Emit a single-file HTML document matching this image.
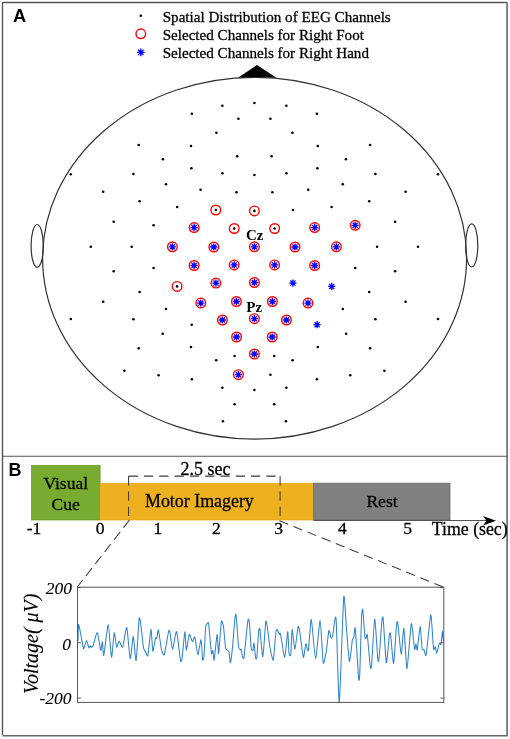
<!DOCTYPE html>
<html><head><meta charset="utf-8"><title>EEG figure</title>
<style>
html,body{margin:0;padding:0;background:#fff;}
body{width:510px;height:739px;overflow:hidden;}
svg{display:block;}
.s{font-family:'Liberation Serif','Times New Roman',serif;}
.s text, text.s{stroke:#000;stroke-width:0.28px;}
.s.it text{stroke-width:0.1px;}
.b{font-family:'Liberation Sans',Arial,sans-serif;font-weight:bold;}
</style></head><body>
<svg width="510" height="739" viewBox="0 0 510 739">
<rect x="0" y="0" width="510" height="739" fill="#fff"/>
<!-- frame -->
<path d="M507.1 3.2V735.8H2.5" fill="none" stroke="#686868" stroke-width="1.6"/>
<path d="M2.5 735V3.2Q2.5 2.5 3.2 2.5H506.4Q507.1 2.5 507.1 3.2" fill="none" stroke="#555" stroke-width="1.4"/>
<line x1="2.5" y1="456.3" x2="507" y2="456.3" stroke="#555" stroke-width="1.1"/>
<!-- Panel A -->
<text class="b" x="13.1" y="21.5" font-size="18.3">A</text>
<g class="s" font-size="15.1" fill="#000">
<text x="162.7" y="21.9">Spatial Distribution of EEG Channels</text>
<text x="162.7" y="39.8">Selected Channels for Right Foot</text>
<text x="162.7" y="58.2">Selected Channels for Right Hand</text>
</g>
<circle cx="140.8" cy="15.8" r="1.3" fill="#000"/>
<circle cx="140.8" cy="33.8" r="4.8" fill="none" stroke="#f00" stroke-width="1.4"/>
<path d="M137.00 52.40h7.60M140.80 48.60v7.60M138.11 49.71l5.37 5.37M138.11 55.09l5.37 -5.37" stroke="#00f" stroke-width="1.3" fill="none"/>
<!-- head -->
<ellipse cx="254.6" cy="258.2" rx="212" ry="180.9" fill="none" stroke="#333" stroke-width="1.2"/>
<path d="M237.9 77.7 L257 65.1 L276.4 77.7 Q257 76.4 237.9 77.7Z" fill="#000"/>
<ellipse cx="37.2" cy="245.9" rx="6.1" ry="21.4" fill="none" stroke="#333" stroke-width="1.2"/>
<ellipse cx="471.7" cy="245.4" rx="6.1" ry="21.6" fill="none" stroke="#333" stroke-width="1.2"/>
<g fill="#000"><circle cx="254.40" cy="103.00" r="1.3"/><circle cx="254.40" cy="175.00" r="1.3"/><circle cx="254.40" cy="210.90" r="1.3"/><circle cx="254.40" cy="390.00" r="1.3"/><circle cx="222.40" cy="105.70" r="1.3"/><circle cx="286.40" cy="105.70" r="1.3"/><circle cx="191.90" cy="113.70" r="1.3"/><circle cx="316.90" cy="113.70" r="1.3"/><circle cx="238.40" cy="118.70" r="1.3"/><circle cx="270.40" cy="118.70" r="1.3"/><circle cx="216.40" cy="132.70" r="1.3"/><circle cx="292.40" cy="132.70" r="1.3"/><circle cx="138.70" cy="145.00" r="1.3"/><circle cx="370.10" cy="145.00" r="1.3"/><circle cx="191.00" cy="146.00" r="1.3"/><circle cx="317.80" cy="146.00" r="1.3"/><circle cx="237.20" cy="156.30" r="1.3"/><circle cx="271.60" cy="156.30" r="1.3"/><circle cx="162.90" cy="159.30" r="1.3"/><circle cx="345.90" cy="159.30" r="1.3"/><circle cx="191.40" cy="168.30" r="1.3"/><circle cx="317.40" cy="168.30" r="1.3"/><circle cx="222.40" cy="173.30" r="1.3"/><circle cx="286.40" cy="173.30" r="1.3"/><circle cx="133.40" cy="174.00" r="1.3"/><circle cx="375.40" cy="174.00" r="1.3"/><circle cx="70.80" cy="174.30" r="1.3"/><circle cx="438.00" cy="174.30" r="1.3"/><circle cx="166.00" cy="184.30" r="1.3"/><circle cx="342.80" cy="184.30" r="1.3"/><circle cx="200.60" cy="189.70" r="1.3"/><circle cx="308.20" cy="189.70" r="1.3"/><circle cx="103.20" cy="191.70" r="1.3"/><circle cx="405.60" cy="191.70" r="1.3"/><circle cx="236.40" cy="192.30" r="1.3"/><circle cx="272.40" cy="192.30" r="1.3"/><circle cx="139.60" cy="201.30" r="1.3"/><circle cx="369.20" cy="201.30" r="1.3"/><circle cx="177.20" cy="207.00" r="1.3"/><circle cx="331.60" cy="207.00" r="1.3"/><circle cx="215.80" cy="210.00" r="1.3"/><circle cx="293.00" cy="210.00" r="1.3"/><circle cx="113.70" cy="221.70" r="1.3"/><circle cx="395.10" cy="221.70" r="1.3"/><circle cx="153.60" cy="225.30" r="1.3"/><circle cx="234.20" cy="228.50" r="1.3"/><circle cx="274.60" cy="228.50" r="1.3"/><circle cx="90.80" cy="246.70" r="1.3"/><circle cx="418.00" cy="246.70" r="1.3"/><circle cx="131.70" cy="246.70" r="1.3"/><circle cx="377.10" cy="246.70" r="1.3"/><circle cx="153.60" cy="268.00" r="1.3"/><circle cx="355.20" cy="268.00" r="1.3"/><circle cx="113.70" cy="271.30" r="1.3"/><circle cx="395.10" cy="271.30" r="1.3"/><circle cx="177.10" cy="286.40" r="1.3"/><circle cx="139.60" cy="292.00" r="1.3"/><circle cx="369.20" cy="292.00" r="1.3"/><circle cx="103.20" cy="301.70" r="1.3"/><circle cx="405.60" cy="301.70" r="1.3"/><circle cx="166.00" cy="309.00" r="1.3"/><circle cx="342.80" cy="309.00" r="1.3"/><circle cx="70.80" cy="319.00" r="1.3"/><circle cx="438.00" cy="319.00" r="1.3"/><circle cx="133.40" cy="319.30" r="1.3"/><circle cx="375.40" cy="319.30" r="1.3"/><circle cx="191.70" cy="324.70" r="1.3"/><circle cx="162.70" cy="333.70" r="1.3"/><circle cx="346.10" cy="333.70" r="1.3"/><circle cx="191.00" cy="347.00" r="1.3"/><circle cx="317.80" cy="347.00" r="1.3"/><circle cx="138.70" cy="348.30" r="1.3"/><circle cx="370.10" cy="348.30" r="1.3"/><circle cx="234.60" cy="356.00" r="1.3"/><circle cx="274.20" cy="356.00" r="1.3"/><circle cx="216.20" cy="360.30" r="1.3"/><circle cx="292.60" cy="360.30" r="1.3"/><circle cx="124.40" cy="370.70" r="1.3"/><circle cx="384.40" cy="370.70" r="1.3"/><circle cx="270.40" cy="374.70" r="1.3"/><circle cx="158.60" cy="375.30" r="1.3"/><circle cx="350.20" cy="375.30" r="1.3"/><circle cx="191.90" cy="379.30" r="1.3"/><circle cx="316.90" cy="379.30" r="1.3"/><circle cx="222.40" cy="387.70" r="1.3"/><circle cx="286.40" cy="387.70" r="1.3"/><circle cx="234.60" cy="404.30" r="1.3"/><circle cx="274.20" cy="404.30" r="1.3"/><circle cx="222.90" cy="421.30" r="1.3"/><circle cx="285.90" cy="421.30" r="1.3"/></g>
<g fill="none" stroke="#f00" stroke-width="1.4"><circle cx="254.40" cy="210.90" r="4.8"/><circle cx="254.40" cy="246.80" r="4.8"/><circle cx="254.40" cy="282.50" r="4.8"/><circle cx="254.40" cy="318.70" r="4.8"/><circle cx="254.40" cy="354.00" r="4.8"/><circle cx="215.80" cy="210.00" r="4.8"/><circle cx="355.20" cy="225.30" r="4.8"/><circle cx="194.10" cy="227.60" r="4.8"/><circle cx="314.70" cy="227.60" r="4.8"/><circle cx="234.20" cy="228.50" r="4.8"/><circle cx="274.60" cy="228.50" r="4.8"/><circle cx="172.40" cy="246.80" r="4.8"/><circle cx="336.40" cy="246.80" r="4.8"/><circle cx="213.80" cy="247.00" r="4.8"/><circle cx="295.00" cy="247.00" r="4.8"/><circle cx="194.10" cy="265.50" r="4.8"/><circle cx="314.70" cy="265.50" r="4.8"/><circle cx="234.20" cy="264.90" r="4.8"/><circle cx="274.60" cy="264.90" r="4.8"/><circle cx="215.90" cy="283.10" r="4.8"/><circle cx="177.10" cy="286.40" r="4.8"/><circle cx="236.40" cy="301.50" r="4.8"/><circle cx="272.40" cy="301.50" r="4.8"/><circle cx="200.80" cy="303.10" r="4.8"/><circle cx="308.00" cy="303.10" r="4.8"/><circle cx="222.40" cy="320.00" r="4.8"/><circle cx="286.40" cy="320.00" r="4.8"/><circle cx="236.60" cy="337.00" r="4.8"/><circle cx="272.20" cy="337.00" r="4.8"/><circle cx="238.40" cy="374.70" r="4.8"/></g>
<path d="M250.80 246.80h7.20M254.40 243.20v7.20M251.85 244.25l5.09 5.09M251.85 249.35l5.09 -5.09 M250.80 282.50h7.20M254.40 278.90v7.20M251.85 279.95l5.09 5.09M251.85 285.05l5.09 -5.09 M250.80 318.70h7.20M254.40 315.10v7.20M251.85 316.15l5.09 5.09M251.85 321.25l5.09 -5.09 M250.80 354.00h7.20M254.40 350.40v7.20M251.85 351.45l5.09 5.09M251.85 356.55l5.09 -5.09 M351.60 225.30h7.20M355.20 221.70v7.20M352.65 222.75l5.09 5.09M352.65 227.85l5.09 -5.09 M190.50 227.60h7.20M194.10 224.00v7.20M191.55 225.05l5.09 5.09M191.55 230.15l5.09 -5.09 M311.10 227.60h7.20M314.70 224.00v7.20M312.15 225.05l5.09 5.09M312.15 230.15l5.09 -5.09 M168.80 246.80h7.20M172.40 243.20v7.20M169.85 244.25l5.09 5.09M169.85 249.35l5.09 -5.09 M332.80 246.80h7.20M336.40 243.20v7.20M333.85 244.25l5.09 5.09M333.85 249.35l5.09 -5.09 M210.20 247.00h7.20M213.80 243.40v7.20M211.25 244.45l5.09 5.09M211.25 249.55l5.09 -5.09 M291.40 247.00h7.20M295.00 243.40v7.20M292.45 244.45l5.09 5.09M292.45 249.55l5.09 -5.09 M190.50 265.50h7.20M194.10 261.90v7.20M191.55 262.95l5.09 5.09M191.55 268.05l5.09 -5.09 M311.10 265.50h7.20M314.70 261.90v7.20M312.15 262.95l5.09 5.09M312.15 268.05l5.09 -5.09 M230.60 264.90h7.20M234.20 261.30v7.20M231.65 262.35l5.09 5.09M231.65 267.45l5.09 -5.09 M271.00 264.90h7.20M274.60 261.30v7.20M272.05 262.35l5.09 5.09M272.05 267.45l5.09 -5.09 M212.30 283.10h7.20M215.90 279.50v7.20M213.35 280.55l5.09 5.09M213.35 285.65l5.09 -5.09 M289.30 283.10h7.20M292.90 279.50v7.20M290.35 280.55l5.09 5.09M290.35 285.65l5.09 -5.09 M328.10 286.40h7.20M331.70 282.80v7.20M329.15 283.85l5.09 5.09M329.15 288.95l5.09 -5.09 M232.80 301.50h7.20M236.40 297.90v7.20M233.85 298.95l5.09 5.09M233.85 304.05l5.09 -5.09 M268.80 301.50h7.20M272.40 297.90v7.20M269.85 298.95l5.09 5.09M269.85 304.05l5.09 -5.09 M197.20 303.10h7.20M200.80 299.50v7.20M198.25 300.55l5.09 5.09M198.25 305.65l5.09 -5.09 M304.40 303.10h7.20M308.00 299.50v7.20M305.45 300.55l5.09 5.09M305.45 305.65l5.09 -5.09 M218.80 320.00h7.20M222.40 316.40v7.20M219.85 317.45l5.09 5.09M219.85 322.55l5.09 -5.09 M282.80 320.00h7.20M286.40 316.40v7.20M283.85 317.45l5.09 5.09M283.85 322.55l5.09 -5.09 M313.50 324.70h7.20M317.10 321.10v7.20M314.55 322.15l5.09 5.09M314.55 327.25l5.09 -5.09 M233.00 337.00h7.20M236.60 333.40v7.20M234.05 334.45l5.09 5.09M234.05 339.55l5.09 -5.09 M268.60 337.00h7.20M272.20 333.40v7.20M269.65 334.45l5.09 5.09M269.65 339.55l5.09 -5.09 M234.80 374.70h7.20M238.40 371.10v7.20M235.85 372.15l5.09 5.09M235.85 377.25l5.09 -5.09" stroke="#00f" stroke-width="1.3" fill="none"/>
<text class="s" x="246.0" y="239.9" font-size="15" font-weight="bold" style="stroke:none">Cz</text>
<text class="s" x="246.3" y="311.6" font-size="15" font-weight="bold" style="stroke:none">Pz</text>
<!-- Panel B -->
<text class="b" x="8.4" y="476.2" font-size="18">B</text>
<rect x="31.5" y="465.3" width="68.6" height="54.7" fill="#77AC30" stroke="#5f9a1f" stroke-width="0.7"/>
<rect x="100.1" y="483.2" width="213.4" height="36.8" fill="#EDB120" stroke="#eaa514" stroke-width="0.7"/>
<rect x="313.5" y="483.2" width="136.5" height="36.8" fill="#808080" stroke="#6a6a6a" stroke-width="0.8"/><line x1="314" y1="483.6" x2="314" y2="519.6" stroke="#6f7c9c" stroke-width="1"/>
<line x1="313.5" y1="520.5" x2="488" y2="520.5" stroke="#555" stroke-width="1.2"/>
<path d="M496 520.8 L483 516 L486.5 520.8 L483 525.6Z" fill="#000"/>
<g class="s" font-size="17.5" fill="#000">
<text x="65.7" y="489.2" text-anchor="middle">Visual</text>
<text x="65.7" y="509.8" text-anchor="middle">Cue</text>
<text x="199.4" y="506.8" text-anchor="middle" font-size="17.9">Motor Imagery</text>
<text x="382" y="506.6" text-anchor="middle">Rest</text>
<text x="205.5" y="474.8" text-anchor="middle" font-size="18">2.5 sec</text>
<text x="34" y="534.2" text-anchor="middle">-1</text>
<text x="100" y="534.2" text-anchor="middle">0</text>
<text x="157.8" y="534.2" text-anchor="middle">1</text>
<text x="216.3" y="534.2" text-anchor="middle">2</text>
<text x="278.7" y="534.2" text-anchor="middle">3</text>
<text x="342.3" y="534.2" text-anchor="middle">4</text>
<text x="407.6" y="534.2" text-anchor="middle">5</text>
<text x="431.8" y="535.4" font-size="17.8">Time (sec)</text>
</g>
<path d="M128.6 476.1 V520 M128.6 476.1 H280.1 M280.1 476.1 V520" fill="none" stroke="#3c3c3c" stroke-width="1.05" stroke-dasharray="9.3 6"/>
<line x1="129.6" y1="519.8" x2="77.3" y2="587" stroke="#3c3c3c" stroke-width="1.05" stroke-dasharray="10 5.3"/>
<line x1="279.4" y1="520.7" x2="443.8" y2="587.2" stroke="#3c3c3c" stroke-width="1.05" stroke-dasharray="9.4 5.8"/>
<!-- plot -->
<path d="M78.0 641.0C78.1 639.4 78.2 623.8 78.7 624.5C79.2 625.2 82.8 645.5 83.4 647.8C84.0 650.1 84.1 647.8 84.4 647.1C84.7 646.4 86.1 640.3 86.6 640.4C87.0 640.5 88.5 647.3 88.9 647.8C89.3 648.3 90.0 645.9 90.2 645.8C90.4 645.7 90.6 647.1 90.9 647.1C91.2 647.1 92.4 647.5 92.9 646.2C93.4 644.9 95.8 635.6 96.3 634.3C96.8 633.0 97.3 632.1 97.7 633.6C98.1 635.1 100.1 647.6 100.4 649.2C100.7 650.8 100.9 650.6 101.1 649.9C101.3 649.1 102.1 641.2 102.4 641.7C102.7 642.2 103.2 657.0 103.8 655.3C104.4 653.6 107.4 624.6 108.2 624.8C109.0 625.0 110.9 656.5 111.5 657.3C112.1 658.1 113.7 633.7 114.2 632.7C114.7 631.7 116.1 646.3 116.6 647.1C117.1 647.9 118.5 641.1 119.1 641.1C119.7 641.1 121.9 648.5 122.7 647.1C123.5 645.7 126.0 626.3 126.8 627.5C127.5 628.7 129.5 657.8 130.2 658.7C130.8 659.6 132.7 636.1 133.3 636.3C133.9 636.5 135.5 662.5 136.1 660.7C136.7 658.9 138.7 621.0 139.2 618.0C139.7 615.0 141.1 627.2 141.5 630.2C141.9 633.2 143.1 645.6 143.5 647.8C143.9 650.0 145.2 651.1 145.6 651.9C146.0 652.6 147.4 657.5 147.9 655.3C148.4 653.1 150.5 629.9 151.0 629.5C151.5 629.1 152.4 650.3 152.8 651.2C153.2 652.1 155.1 639.4 155.5 638.1C155.9 636.8 156.5 639.4 156.8 638.6C157.1 637.8 157.9 628.9 158.4 630.0C158.9 631.1 160.8 646.7 161.4 649.2C162.0 651.7 163.6 656.4 164.3 654.6C165.0 652.8 168.0 633.5 168.6 631.3C169.2 629.1 169.6 630.5 170.0 632.3C170.4 634.1 172.0 649.3 172.7 649.2C173.3 649.1 175.7 630.6 176.5 631.6C177.3 632.6 179.9 656.9 180.4 659.7C180.9 662.5 181.5 662.1 181.9 659.3C182.3 656.5 184.5 632.7 184.9 631.8C185.3 630.9 185.9 650.0 186.3 650.2C186.7 650.5 188.7 635.1 189.3 634.3C189.9 633.4 191.8 641.4 192.4 641.7C193.0 642.0 194.2 635.7 194.8 637.0C195.4 638.3 197.3 654.3 197.9 654.6C198.5 654.9 200.5 639.2 201.0 639.7C201.5 640.2 202.3 658.1 202.6 659.7C202.9 661.3 203.7 659.2 204.0 656.0C204.3 652.8 205.3 630.8 205.6 627.5C205.9 624.2 207.0 623.7 207.3 623.4C207.6 623.1 208.3 621.1 208.7 624.1C209.1 627.1 211.0 650.6 211.4 653.2C211.8 655.8 212.5 649.8 212.8 650.5C213.1 651.2 213.7 661.6 214.1 660.0C214.5 658.4 216.7 635.2 217.1 634.6C217.5 634.0 218.2 654.8 218.6 653.5C219.0 652.2 220.8 624.4 221.3 621.8C221.8 619.2 223.2 624.9 223.6 627.5C224.0 630.1 225.1 645.4 225.6 647.8C226.1 650.2 228.5 650.4 229.0 651.9C229.5 653.4 230.0 663.4 230.4 662.7C230.8 662.0 232.3 649.4 232.7 645.1C233.1 640.8 234.5 622.4 234.8 619.4C235.2 616.4 235.8 612.6 236.2 615.3C236.6 618.0 238.1 643.0 238.5 646.5C238.9 650.0 240.2 649.6 240.5 649.9C240.8 650.2 240.9 648.5 241.1 649.2C241.3 649.9 242.4 656.6 242.7 657.3C243.0 658.0 243.6 660.3 244.1 656.6C244.6 652.9 247.4 623.4 247.9 620.1C248.4 616.9 249.2 621.3 249.5 624.1C249.8 626.9 250.8 645.2 251.1 647.8C251.4 650.4 252.6 651.0 252.9 650.5C253.2 650.0 253.7 642.4 254.0 643.1C254.3 643.9 255.3 656.6 255.6 658.0C255.9 659.4 256.6 659.3 256.9 656.6C257.2 653.9 258.4 633.6 258.7 630.9C259.0 628.2 259.6 627.3 260.0 629.9C260.4 632.5 262.2 657.4 262.8 656.6C263.4 655.8 265.3 625.2 265.7 622.1C266.1 619.0 266.7 623.1 267.1 625.5C267.5 627.9 269.3 643.2 269.8 646.5C270.3 649.8 272.1 657.5 272.5 658.7C272.9 659.9 273.3 661.4 273.6 658.7C273.9 656.1 275.5 635.1 275.9 632.2C276.3 629.3 276.9 629.3 277.2 629.5C277.5 629.7 279.0 633.8 279.3 634.3C279.6 634.8 280.1 632.0 280.6 634.3C281.1 636.6 284.0 657.6 284.7 657.3C285.4 657.0 287.3 632.0 287.7 631.6C288.1 631.2 288.7 650.9 289.0 653.2C289.3 655.5 290.5 657.0 290.8 654.6C291.1 652.2 291.7 630.0 292.1 629.5C292.5 629.0 294.3 649.5 294.9 649.2C295.5 649.0 297.5 628.8 298.0 627.0C298.5 625.2 299.2 628.6 299.7 631.6C300.2 634.6 302.8 656.1 303.4 657.3C304.0 658.5 305.3 644.5 305.8 643.8C306.3 643.1 307.8 652.9 308.3 650.5C308.9 648.1 310.6 618.6 311.3 619.4C312.0 620.2 314.7 658.6 315.6 658.7C316.5 658.8 319.3 620.3 320.1 620.7C320.9 621.1 322.6 659.6 323.2 662.7C323.8 665.8 325.6 655.1 326.2 651.9C326.8 648.7 328.4 631.9 328.9 630.5C329.4 629.1 330.5 637.2 330.9 637.7C331.3 638.2 332.3 637.4 332.7 635.6C333.1 633.8 334.6 620.6 335.0 619.3C335.4 617.9 335.9 613.8 336.3 622.1C336.7 630.4 338.6 704.9 339.3 702.4C340.0 699.9 343.0 604.6 343.7 597.2C344.4 589.9 345.9 622.5 346.5 628.9C347.1 635.3 348.8 660.3 349.4 661.4C350.0 662.5 352.0 642.1 352.4 639.7C352.8 637.3 353.5 638.8 353.8 637.7C354.1 636.6 354.8 624.3 355.3 628.4C355.8 632.5 358.2 673.9 358.6 678.4C359.1 682.9 359.5 678.9 359.8 672.9C360.1 666.9 361.2 624.3 361.5 618.0C361.8 611.7 362.5 607.6 362.8 609.5C363.1 611.4 364.6 634.1 364.9 637.0C365.2 639.9 365.8 638.5 366.0 638.3C366.2 638.1 366.9 632.1 367.3 635.0C367.7 637.9 369.9 663.9 370.3 666.8C370.7 669.7 371.3 668.9 371.7 664.1C372.1 659.3 374.1 619.6 374.7 619.1C375.3 618.6 377.4 655.4 377.8 659.3C378.2 663.2 378.7 661.7 379.1 658.0C379.5 654.3 381.4 626.0 381.8 622.1C382.2 618.2 382.8 614.6 383.2 618.7C383.6 622.8 385.7 661.0 386.3 662.7C386.9 664.4 388.9 638.4 389.3 635.6C389.7 632.8 390.2 631.5 390.6 634.3C391.0 637.1 393.0 664.5 393.6 663.4C394.2 662.3 396.2 627.2 396.7 623.4C397.1 619.6 397.7 622.4 398.1 625.5C398.6 628.6 400.6 653.9 401.2 654.2C401.8 654.5 403.3 626.9 403.9 628.4C404.5 629.9 406.3 669.3 407.0 668.8C407.7 668.3 410.5 625.7 411.3 623.7C412.1 621.7 414.1 647.2 414.6 649.2C415.1 651.2 415.7 643.7 416.0 643.8C416.3 643.9 416.9 651.6 417.3 649.9C417.7 648.2 419.6 626.5 420.1 626.4C420.6 626.3 421.7 646.1 422.1 648.5C422.5 650.9 423.7 649.3 424.1 649.9C424.5 650.5 425.6 658.0 426.2 654.6C426.8 651.2 429.9 618.6 430.5 615.6C431.1 612.6 431.5 620.7 431.8 624.1C432.1 627.5 433.2 647.0 433.6 649.2C434.0 651.4 435.1 646.1 435.4 646.5C435.7 646.9 436.3 653.5 436.7 653.2C437.1 652.9 439.0 644.0 439.4 643.1C439.8 642.2 440.8 645.6 441.1 644.4C441.4 643.2 442.2 631.6 442.4 631.3C442.6 631.0 443.4 640.7 443.5 641.7" fill="none" stroke="#2f84cc" stroke-width="1.05" stroke-linejoin="round"/>
<rect x="77.5" y="587.2" width="366.3" height="115.2" fill="none" stroke="#555" stroke-width="1"/>
<path d="M77.5 642.8h3.4M77.5 698.1h3.4M443.8 642.8h-3.4M443.8 698.1h-3.4M77.5 587.7h3.4M443.8 587.7h-3.4" stroke="#555" stroke-width="1"/>
<g class="s it" font-size="17.5" font-style="italic" fill="#000">
<text x="72" y="594" text-anchor="end">200</text>
<text x="71" y="649.5" text-anchor="end">0</text>
<text x="71.5" y="704.3" text-anchor="end">-200</text>
<text transform="translate(37.6,643.8) rotate(-90)" text-anchor="middle" font-size="20">Voltage( μV)</text>
</g>
</svg>
</body></html>
